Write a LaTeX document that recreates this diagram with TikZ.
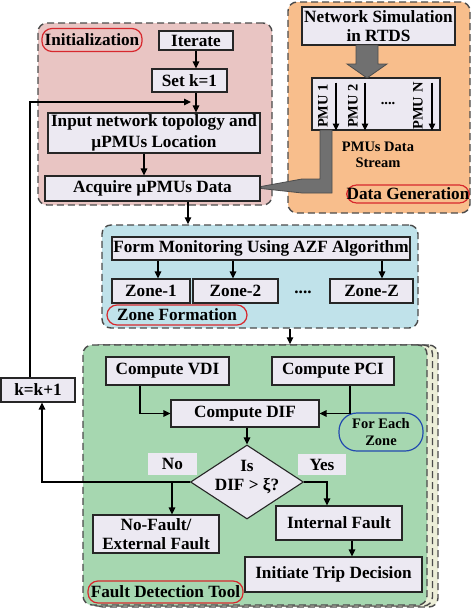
\documentclass[tikz,border=0pt]{standalone}
\usepackage{fontspec}
\setmainfont{Liberation Serif}
\usetikzlibrary{arrows.meta,shapes.geometric}
\definecolor{pinkbg}{RGB}{233,197,195}
\definecolor{orangebg}{RGB}{248,190,140}
\definecolor{bluebg}{RGB}{192,226,234}
\definecolor{greenbg}{RGB}{166,215,176}
\definecolor{creambg}{RGB}{236,238,216}
\definecolor{nodebg}{RGB}{236,233,242}
\definecolor{dashc}{RGB}{75,75,75}
\definecolor{lblred}{RGB}{215,40,45}
\definecolor{lblblue}{RGB}{35,75,175}
\definecolor{streamgray}{RGB}{112,112,112}
\begin{document}
\begin{tikzpicture}[x=1pt,y=-1pt, font=\fontsize{17.2}{19.5}\selectfont\bfseries,
  region/.style={draw=dashc, line width=1.4pt, dash pattern=on 7pt off 4pt, rounded corners=9pt, inner sep=0pt},
  box/.style={draw=black!85, fill=nodebg, line width=1.1pt, inner sep=0pt, align=center},
  tag/.style={draw=lblred, line width=1.2pt, rounded corners=10pt, inner sep=0pt},
  flag/.style={fill=nodebg, inner sep=0pt},
  small/.style={font=\fontsize{14.5}{16}\selectfont\bfseries},
  arr/.style={line width=1.2pt, -{Triangle[length=7pt,width=6.5pt]}},
  stream/.style={fill=streamgray, draw=black!70, line width=0.8pt}]
\useasboundingbox (0,0) rectangle (474,608);
% regions
\node[region, fill=pinkbg, minimum width=234pt, minimum height=182pt] (initreg) at (155,114) {};
\node[region, fill=orangebg, minimum width=182pt, minimum height=211pt] (genreg) at (379,107.5) {};
\node[region, fill=bluebg, minimum width=316pt, minimum height=103pt] (zonereg) at (260,276.5) {};
\node[region, fill=creambg, minimum width=344pt, minimum height=262pt] (stackb) at (266,476) {};
\node[region, fill=creambg, minimum width=344pt, minimum height=261pt] (stacka) at (260.5,475.5) {};
\node[region, fill=greenbg, minimum width=344pt, minimum height=260pt] (fdtreg) at (255,475) {};
% data generation
\node[box, minimum width=153pt, minimum height=38pt] (netsim) at (378.5,26) {Network Simulation\\in RTDS};
\node[box, minimum width=128pt, minimum height=52pt] (pmubox) at (376,104) {};
\draw[stream] (356,45) -- (378,45) -- (378,64) -- (387,64) -- (367,78) -- (347,64) -- (356,64) -- cycle;
\node[small, rotate=90] (p1) at (323,106) {PMU 1};
\node[small, rotate=90] (p2) at (353,106) {PMU 2};
\node[small, rotate=90] (pn) at (418,106) {PMU N};
\node[small] (pdots) at (388,104) {....};
\draw[arr] ([xshift=-40pt,yshift=48pt]pmubox.south) -- ([xshift=-40pt]pmubox.south);
\draw[arr] ([xshift=-11pt,yshift=48pt]pmubox.south) -- ([xshift=-11pt]pmubox.south);
\draw[arr] ([xshift=56pt,yshift=48pt]pmubox.south) -- ([xshift=56pt]pmubox.south);
\draw[stream] (320,130) -- (332,130) -- (332,193) -- (302,193) -- (261,188.5) -- (261,186.5) -- (302,179) -- (320,179) -- cycle;
\node[small, align=center] (pmutxt) at (378,155) {PMUs Data\\Stream};
\node[tag, minimum width=122pt, minimum height=18pt] (gentag) at (408,194) {Data Generation};
% initialization
\node[tag, minimum width=100pt, minimum height=23pt] (inittag) at (92,40) {Initialization};
\node[box, minimum width=74pt, minimum height=19pt] (iterate) at (196,40.5) {Iterate};
\node[box, minimum width=75pt, minimum height=23pt] (setk) at (189.5,80.5) {Set k=1};
\node[box, minimum width=212pt, minimum height=40pt, font=\fontsize{17.2}{20.5}\selectfont\bfseries] (input) at (154,133) {Input network topology and\\µPMUs Location};
\node[box, minimum width=215pt, minimum height=25pt] (acquire) at (152.5,188.5) {Acquire µPMUs Data};
% zone formation
\node[box, minimum width=298pt, minimum height=23pt] (form) at (261,248.5) {Form Monitoring Using AZF Algorithm};
\node[box, minimum width=78pt, minimum height=24pt] (zone1) at (151,291) {Zone-1};
\node[box, minimum width=85pt, minimum height=24pt] (zone2) at (235.5,291) {Zone-2};
\node[box, minimum width=83pt, minimum height=24pt] (zonez) at (371.5,291) {Zone-Z};
\node (zdots) at (303,292) {....};
\node[tag, minimum width=140pt, minimum height=20pt] (zonetag) at (177,315) {Zone Formation};
% fault detection
\node[box, minimum width=123pt, minimum height=28pt] (vdi) at (167.5,371) {Compute VDI};
\node[box, minimum width=122pt, minimum height=28pt] (pci) at (333,371) {Compute PCI};
\node[box, minimum width=148pt, minimum height=27pt] (dif) at (245,413.5) {Compute DIF};
\node[draw=lblblue, line width=1.2pt, rounded corners=18pt, minimum width=84pt, minimum height=38pt, inner sep=0pt, align=center, font=\fontsize{14.5}{17}\selectfont\bfseries] (foreach) at (381,432) {For Each\\Zone};
\node[draw=black!85, fill=nodebg, line width=1.1pt, shape=diamond, minimum width=113pt, minimum height=74pt, inner sep=0pt] (dia) at (247,482) {};
\node[align=center] (diatxt) at (247,477) {Is\\DIF > ξ?};
\node[flag, minimum width=49pt, minimum height=22pt] (no) at (172.5,464) {No};
\node[flag, minimum width=48pt, minimum height=21pt] (yes) at (322,464.5) {Yes};
\node[box, minimum width=126pt, minimum height=38pt] (nofault) at (156,534) {No-Fault/\\External Fault};
\node[box, minimum width=126pt, minimum height=34pt] (internal) at (339,523) {Internal Fault};
\node[box, minimum width=177pt, minimum height=35pt] (initiate) at (333.5,574.5) {Initiate Trip Decision};
\node[tag, minimum width=155pt, minimum height=22pt] (fdttag) at (165.5,592) {Fault Detection Tool};
\node[box, minimum width=74pt, minimum height=24pt] (kk1) at (38,390) {k=k+1};
% connectors
\coordinate (loopend) at (191,102);
\draw[arr] (iterate.south) -- (iterate.south |- setk.north);
\draw[arr] (iterate.south |- setk.south) -- (iterate.south |- input.north);
\draw[arr] ([xshift=-8pt]kk1.north) |- (loopend);
\draw[arr] ([xshift=-10pt]input.south) -- ([xshift=-10pt]input.south |- acquire.north);
\draw[arr] ([xshift=35.5pt]acquire.south) -- ([xshift=35.5pt]acquire.south |- zonereg.north);
\draw[arr] ([xshift=7pt]zone1.north |- form.south) -- ([xshift=7pt]zone1.north);
\draw[arr] ([xshift=-2.5pt]zone2.north |- form.south) -- ([xshift=-2.5pt]zone2.north);
\draw[arr] ([xshift=10.5pt]zonez.north |- form.south) -- ([xshift=10.5pt]zonez.north);
\draw[arr] ([xshift=30pt]zonereg.south) -- ([xshift=30pt]zonereg.south |- fdtreg.north);
\draw[arr] ([xshift=-27.5pt]vdi.south) |- (dif.west);
\draw[arr] ([xshift=17pt]pci.south) |- (dif.east);
\draw[arr] (dif.south -| dia.north) -- (dia.north);
\draw[arr] (dia.west) -| ([xshift=16pt]nofault.north);
\draw[arr] (dia.west) -| ([xshift=4pt]kk1.south);
\draw[arr] (dia.east) -| ([xshift=-12pt]internal.north);
\draw[arr] ([xshift=13pt]internal.south) -- ([xshift=13pt]internal.south |- initiate.north);
\end{tikzpicture}
\end{document}
